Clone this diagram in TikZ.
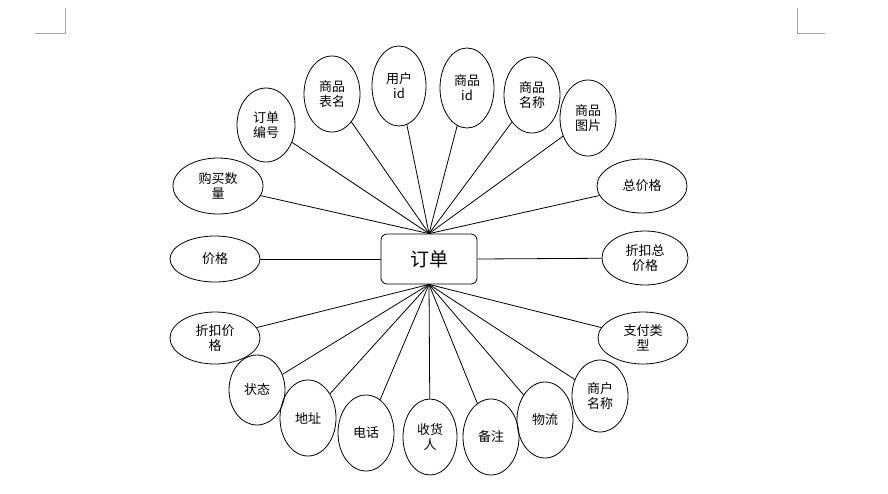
\documentclass[tikz,border=0pt]{standalone}
\usepackage{fontspec}
\setmainfont{Noto Sans CJK SC}
\usetikzlibrary{shapes.geometric}
\begin{document}
\begin{tikzpicture}[x=1pt,y=-1pt,
  attr/.style={draw,ellipse,inner sep=0pt,align=center,font=\fontsize{13}{15}\selectfont,thick},
  link/.style={thick}]
\useasboundingbox (0,0) rectangle (888,493);
\draw[gray!70] (65,8)--(65,33)--(35,33) (797,8)--(797,33)--(825,33);
\node[draw,thick,rounded corners=6pt,minimum width=96pt,minimum height=50pt,font=\fontsize{19}{21}\selectfont] (c) at (429,259) {订单};
\newcommand{\att}[6]{\node[attr,minimum width=#3pt,minimum height=#4pt] (#1) at (#2) {#5};\draw[link] (#1) -- (c.#6);}
\att{a1}{218,186}{90}{56}{购买数\\量}{north}
\att{a2}{215,259}{90}{46}{价格}{west}
\att{a3}{215,338}{90}{52}{折扣价\\格}{south}
\att{a4}{266,125}{58}{74}{订单\\编号}{north}
\att{a5}{332,94}{56}{76}{商品\\表名}{north}
\att{a6}{399,86}{54}{80}{用户\\id}{north}
\att{a7}{467,88}{54}{80}{商品\\id}{north}
\att{a8}{532,95}{56}{76}{商品\\名称}{north}
\att{a9}{588,118}{56}{76}{商品\\图片}{north}
\att{b1}{642,186}{90}{54}{总价格}{north}
\att{b2}{645,258}{86}{54}{折扣总\\价格}{east}
\att{b3}{643,338}{90}{52}{支付类\\型}{south}
\att{d1}{257,390}{56}{70}{状态}{south}
\att{d2}{308,418}{56}{76}{地址}{south}
\att{d3}{366,433}{56}{76}{电话}{south}
\att{d4}{430,437}{54}{76}{收货\\人}{south}
\att{d5}{491,437}{56}{76}{备注}{south}
\att{d6}{545,420}{56}{76}{物流}{south}
\att{d7}{600,396}{56}{72}{商户\\名称}{south}
\end{tikzpicture}
\end{document}
